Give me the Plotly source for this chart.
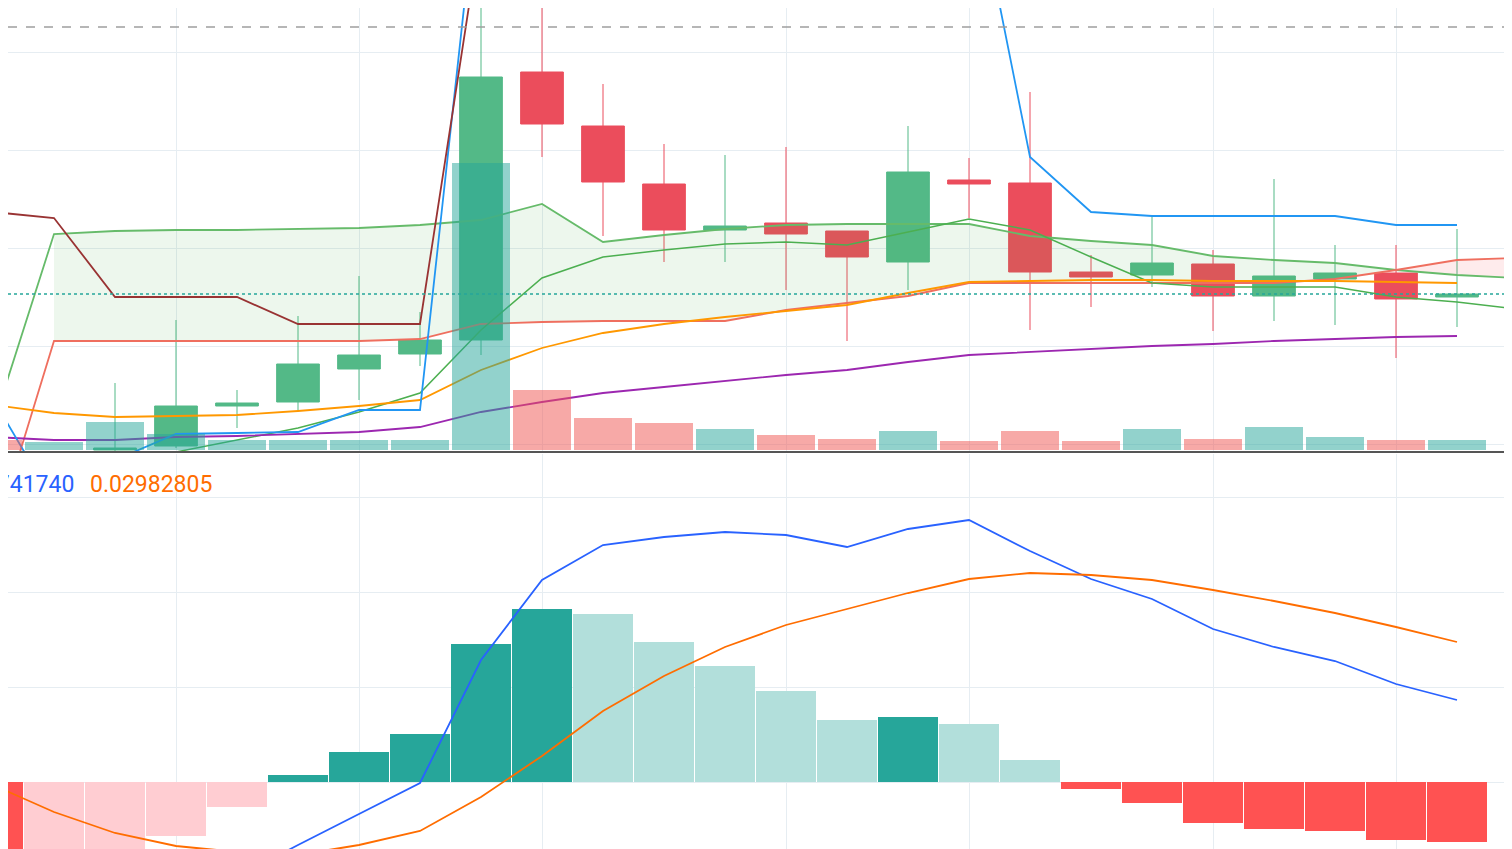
import plotly.graph_objects as go

idx = list(range(25))
c_idx = list(range(2, 25))
c_open  = [2, 6, 46, 50, 83, 98, 112, 380, 326, 268, 222, 229, 221, 190, 272, 269, 180, 177, 188, 156, 173, 179, 155]
c_high  = [69, 132, 62, 136, 176, 140, 470, 470, 368, 308, 297, 305, 221, 326, 294, 360, 197, 236, 202, 273, 207, 207, 223]
c_low   = [0, 4, 24, 42, 52, 86, 97, 295, 216, 190, 190, 162, 111, 162, 234, 122, 145, 165, 121, 131, 127, 94, 125]
c_close = [4, 46, 49, 88, 97, 112, 375, 328, 270, 222, 226, 218, 195, 280, 268, 180, 175, 189, 156, 176, 179, 153, 158]
volume  = [10, 8, 28, 16, 10, 10, 10, 10, 287, 60, 32, 27, 21, 15, 11, 19, 9, 19, 9, 21, 11, 23, 13, 10, 10]
vol_up  = [0, 1, 1, 1, 1, 1, 1, 1, 1, 0, 0, 0, 1, 0, 0, 1, 0, 0, 0, 1, 0, 1, 1, 0, 1]

brown  = [240, 234, 155, 155, 155, 128, 128, 128, 524]
blue   = [53, -50, -8, 18, 19, 20, 42, 42, 600, 600, 600, 600, 600, 600, 600, 600, 600, 295, 240, 236, 236, 236, 236, 227, 227]
band_idx = list(range(26))
band_up  = [27, 218, 221, 222, 222, 223, 224, 227, 232, 248, 210, 217, 223, 227, 228, 228, 228, 216, 211, 207, 196, 192, 189, 182, 177, 174]
band_red = [-88, 111, 111, 111, 111, 111, 111, 113, 128, 130, 131, 131, 131, 142, 149, 156, 169, 169, 169, 169, 169, 169, 173, 182, 192, 194]
low_idx  = list(range(2, 26))
low_green = [-12, 0, 12, 24, 40, 59, 122, 174, 195, 202, 208, 210, 207, 220, 233, 222, 195, 169, 165, 165, 165, 155, 150, 143]
orange = [47, 39, 35, 36, 37, 41, 46, 52, 82, 104, 119, 128, 135, 141, 147, 159, 170, 171, 172, 172, 171, 171, 171, 170, 169]
purple = [15, 12, 12, 15, 16, 18, 20, 25, 40, 50, 59, 65, 71, 77, 82, 90, 97, 100, 103, 106, 108, 111, 113, 115, 116]

hist   = [-90, -80, -67, -54, -25, 7, 30, 48, 138, 173, 168, 140, 116, 91, 62, 65, 58, 22, -7, -21, -41, -47, -49, -58, -60]
macd   = [-93, -110, -118, -118, -95, -63, -32, -1, 122, 202, 237, 245, 250, 247, 235, 253, 262, 231, 203, 183, 153, 135, 121, 98, 82]
signal = [-3, -30, -51, -64, -70, -73, -63, -49, -15, 26, 71, 106, 135, 157, 173, 189, 203, 209, 207, 202, 192, 181, 169, 155, 140]
macd_label, signal_label = "0.05741740", "0.02982805"

hcol = []
for i, h in enumerate(hist):
    prev = hist[i - 1] if i > 0 else (h - 1 if h >= 0 else h + 1)
    if h >= 0:
        hcol.append('#26A69A' if h >= prev else '#B2DFDB')
    else:
        hcol.append('#FF5252' if h <= prev else '#FFCDD2')

fig = go.Figure()
fig.add_bar(x=idx, y=volume, yaxis='y2', width=0.96, marker_line_width=0,
            marker_color=['rgba(38,166,154,0.5)' if u else 'rgba(239,83,80,0.5)' for u in vol_up])
k = 23
fig.add_scatter(x=band_idx[1:k+1], y=band_red[1:k+1], mode='lines', line=dict(width=0), hoverinfo='skip')
fig.add_scatter(x=band_idx[1:k+1], y=band_up[1:k+1], mode='lines', line=dict(width=0), fill='tonexty',
                fillcolor='rgba(76,175,80,0.10)', hoverinfo='skip')
fig.add_scatter(x=band_idx[k:], y=band_up[k:], mode='lines', line=dict(width=0), hoverinfo='skip')
fig.add_scatter(x=band_idx[k:], y=band_red[k:], mode='lines', line=dict(width=0), fill='tonexty',
                fillcolor='rgba(242,54,69,0.10)', hoverinfo='skip')
fig.add_scatter(x=band_idx, y=band_up, mode='lines', line=dict(color='#66BB6A', width=1.8))
fig.add_scatter(x=band_idx, y=band_red, mode='lines', line=dict(color='#EF6F5F', width=1.8))
fig.add_scatter(x=low_idx, y=low_green, mode='lines', line=dict(color='#4CAF50', width=1.5))
fig.add_scatter(x=idx, y=purple, mode='lines', line=dict(color='#9C27B0', width=1.8))
fig.add_scatter(x=idx, y=orange, mode='lines', line=dict(color='#FF9800', width=1.8))
fig.add_scatter(x=idx, y=blue, mode='lines', line=dict(color='#2196F3', width=1.8))
fig.add_scatter(x=idx[:len(brown)], y=brown, mode='lines', line=dict(color='#993333', width=1.8))
fig.add_candlestick(x=c_idx, open=c_open, high=c_high, low=c_low, close=c_close, whiskerwidth=0,
                    increasing=dict(line=dict(color='#53B987', width=1), fillcolor='#53B987'),
                    decreasing=dict(line=dict(color='#EB4D5C', width=1), fillcolor='#EB4D5C'))
fig.add_bar(x=idx, y=hist, yaxis='y3', marker_color=hcol, width=0.97, marker_line_width=0)
fig.add_scatter(x=idx, y=macd, yaxis='y3', mode='lines', line=dict(color='#2962FF', width=1.8))
fig.add_scatter(x=idx, y=signal, yaxis='y3', mode='lines', line=dict(color='#FF6D00', width=1.8))

grid = '#E6EDF2'
vt = [3, 6, 9, 13, 16, 20, 23]
off = 8  # page offset in px
fig.update_layout(
    width=1512, height=849, margin=dict(l=0, r=0, t=0, b=0), showlegend=False,
    plot_bgcolor='white', paper_bgcolor='white', bargap=0, boxgap=0, boxmode='overlay',
    xaxis=dict(range=[(off + 7) / 61, (1512 + off + 7) / 61], tickvals=vt, showticklabels=False,
               showgrid=True, gridcolor=grid, zeroline=False, rangeslider=dict(visible=False)),
    yaxis=dict(domain=[1 - 444 / 849, 1], range=[0, 444], tick0=106, dtick=98, showticklabels=False,
               gridcolor=grid, zeroline=False),
    yaxis2=dict(domain=[1 - 444 / 849, 1], range=[-2, 442], overlaying='y', visible=False),
    yaxis3=dict(domain=[0, 1 - 446 / 849], range=[-75, 328], tick0=0, dtick=95, showticklabels=False,
                gridcolor=grid, zeroline=False, anchor='x'),
)
fig.add_hline(y=425, line=dict(color='#9E9E9E', width=1.5, dash='dash'))
fig.add_hline(y=158, line=dict(color='#26A69A', width=1.5, dash='dot'))
fig.add_shape(type='line', xref='paper', yref='paper', x0=0, x1=1, y0=1 - 444 / 849, y1=1 - 444 / 849,
              line=dict(color='#555555', width=2))
fig.add_annotation(xref='paper', yref='paper', x=68 / 1512, y=1 - 476 / 849, xanchor='right', yanchor='middle',
                   text=macd_label, showarrow=False, font=dict(family='Roboto', size=23, color='#2962FF'))
fig.add_annotation(xref='paper', yref='paper', x=80 / 1512, y=1 - 476 / 849, xanchor='left', yanchor='middle',
                   text=signal_label, showarrow=False, font=dict(family='Roboto', size=23, color='#FF6D00'))
fig.write_html("out.html")
